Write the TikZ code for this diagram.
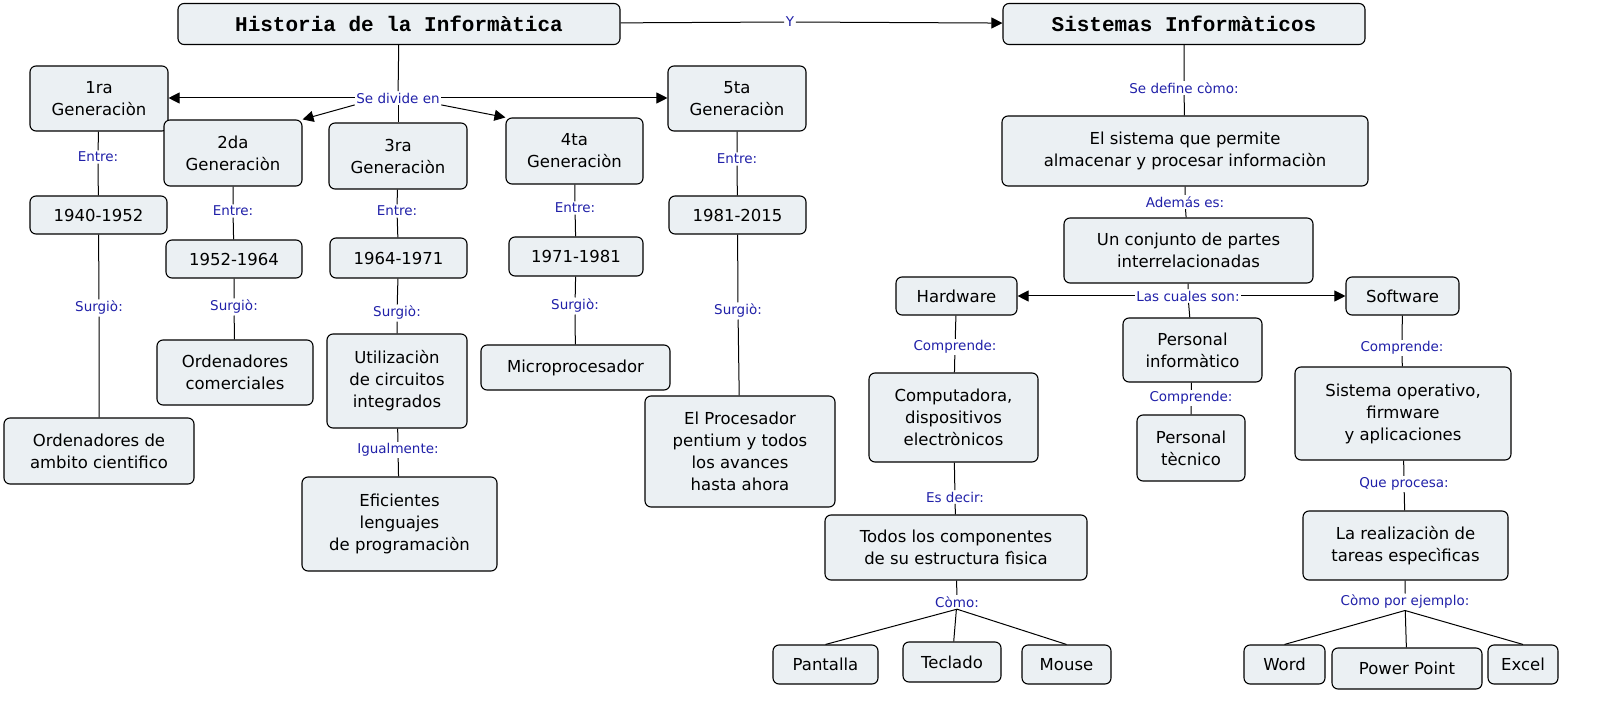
\documentclass[tikz,border=0pt]{standalone}
\usepackage{fontspec}
\setmainfont{DejaVu Sans}
\newfontfamily\monof{Liberation Mono}
\usetikzlibrary{arrows.meta}
\definecolor{boxfill}{HTML}{EBF0F3}
\definecolor{lblc}{HTML}{2020A8}
\newcommand{\bx}[6]{\node[box,minimum width={(#4-#2)*1pt},minimum height={(#5-#3)*1pt}] (#1) at ({(#2+#4)/2},{(#3+#5)/2}) {#6};}
\begin{document}
\begin{tikzpicture}[x=1pt,y=-1pt,
 box/.style={draw,rounded corners=6pt,fill=boxfill,line width=1.1pt,align=center,inner sep=0pt,font=\fontsize{16.5}{22}\selectfont},
 ttl/.style={box,font=\fontsize{21}{24}\selectfont\monof\bfseries},
 lbl/.style={text=lblc,inner sep=1.5pt,font=\fontsize{13.5}{16}\selectfont},
 ln/.style={line width=1pt},
 ar/.style={line width=1pt,-{Triangle[length=11pt,width=11pt]}}]
\useasboundingbox (0,0) rectangle (1600,708);
\node[ttl,minimum width=442pt,minimum height=41pt] (hist) at (399,24) {Historia de la Informàtica};
\node[ttl,minimum width=362pt,minimum height=41pt] (sis) at (1184,24) {Sistemas Informàticos};
\node[lbl] (Y) at (790,22) {Y};
\draw[ln] (hist) -- (Y); \draw[ar] (Y) -- (sis);
% generations
\bx{g1}{30}{66}{168}{131}{1ra\\Generaciòn}
\bx{g2}{164}{120}{302}{186}{2da\\Generaciòn}
\bx{g3}{329}{123}{467}{189}{3ra\\Generaciòn}
\bx{g4}{506}{118}{643}{184}{4ta\\Generaciòn}
\bx{g5}{668}{66}{806}{131}{5ta\\Generaciòn}
\node[lbl] (sd) at (398,98) {Se divide en};
\draw[ln] (hist) -- (sd); \draw[ln] (sd) -- (g3);
\draw[ar] (sd.west) -- (g1.east|-sd.west);
\draw[ar] (sd.east) -- (g5.west|-sd.east);
\draw[ar] (sd.south west) -- (g2.north east);
\draw[ar] (sd.south east) -- (g4.north west);
% col1
\node[lbl] (e1) at (98,157) {Entre:};
\bx{d1}{30}{196}{167}{234}{1940-1952}
\node[lbl] (s1) at (99,308) {Surgiò:};
\bx{o1}{4}{418}{194}{484}{Ordenadores de\\ambito cientifico}
\draw[ln] (g1)--(e1)--(d1)--(s1)--(o1);
% col2
\node[lbl] (e2) at (233,211) {Entre:};
\bx{d2}{166}{240}{302}{278}{1952-1964}
\node[lbl] (s2) at (234,307) {Surgiò:};
\bx{o2}{157}{340}{313}{405}{Ordenadores\\comerciales}
\draw[ln] (g2)--(e2)--(d2)--(s2)--(o2);
% col3
\node[lbl] (e3) at (397,211) {Entre:};
\bx{d3}{330}{238}{467}{278}{1964-1971}
\node[lbl] (s3) at (397,313) {Surgiò:};
\bx{o3}{327}{334}{467}{428}{Utilizaciòn\\de circuitos\\integrados}
\node[lbl] (i3) at (398,450) {Igualmente:};
\bx{p3}{302}{477}{497}{571}{Eficientes\\lenguajes\\de programaciòn}
\draw[ln] (g3)--(e3)--(d3)--(s3)--(o3)--(i3)--(p3);
% col4
\node[lbl] (e4) at (575,208) {Entre:};
\bx{d4}{509}{237}{643}{276}{1971-1981}
\node[lbl] (s4) at (575,306) {Surgiò:};
\bx{o4}{481}{345}{670}{390}{Microprocesador}
\draw[ln] (g4)--(e4)--(d4)--(s4)--(o4);
% col5
\node[lbl] (e5) at (737,159) {Entre:};
\bx{d5}{669}{196}{806}{234}{1981-2015}
\node[lbl] (s5) at (738,311) {Surgiò:};
\bx{o5}{645}{396}{835}{507}{El Procesador\\pentium y todos\\los avances\\hasta ahora}
\draw[ln] (g5)--(e5)--(d5)--(s5)--(o5);
% right side
\node[lbl] (sdc) at (1184,88) {Se define còmo:};
\bx{es}{1002}{116}{1368}{186}{El sistema que permite\\almacenar y procesar informaciòn}
\node[lbl] (ae) at (1185,202) {Además es:};
\bx{uc}{1064}{218}{1313}{283}{Un conjunto de partes\\interrelacionadas}
\node[lbl] (lc) at (1188,296) {Las cuales son:};
\draw[ln] (sis)--(sdc)--(es)--(ae)--(uc)--(lc);
\bx{hw}{896}{277}{1017}{315}{Hardware}
\bx{sw}{1346}{277}{1459}{315}{Software}
\draw[ar] (lc.west) -- (hw.east|-lc.west);
\draw[ar] (lc.east) -- (sw.west|-lc.east);
\bx{pi}{1123}{318}{1262}{382}{Personal\\informàtico}
\node[lbl] (cp) at (1191,398) {Comprende:};
\bx{pt}{1137}{415}{1245}{481}{Personal\\tècnico}
\draw[ln] (lc)--(pi)--(cp)--(pt);
% hardware
\node[lbl] (ch) at (955,347) {Comprende:};
\bx{cd}{869}{373}{1038}{462}{Computadora,\\dispositivos\\electrònicos}
\node[lbl] (ed) at (955,497) {Es decir:};
\bx{tc}{825}{515}{1087}{580}{Todos los componentes\\de su estructura fìsica}
\node[lbl] (co) at (957,602) {Còmo:};
\draw[ln] (hw)--(ch)--(cd)--(ed)--(tc)--(co);
\bx{pa}{773}{645}{878}{684}{Pantalla}
\bx{te}{903}{642}{1001}{682}{Teclado}
\bx{mo}{1022}{645}{1111}{684}{Mouse}
\draw[ln] (co.south)--(pa.north); \draw[ln] (co)--(te); \draw[ln] (co.south)--(mo.north);
% software
\node[lbl] (cs) at (1402,348) {Comprende:};
\bx{so}{1295}{367}{1511}{460}{Sistema operativo,\\firmware\\y aplicaciones}
\node[lbl] (qp) at (1404,484) {Que procesa:};
\bx{rt}{1303}{511}{1508}{580}{La realizaciòn de\\tareas especìficas}
\node[lbl] (cpe) at (1405,602) {Còmo por ejemplo:};
\draw[ln] (sw)--(cs)--(so)--(qp)--(rt)--(cpe);
\bx{wo}{1244}{645}{1325}{684}{Word}
\bx{pp}{1332}{648}{1482}{689}{Power Point}
\bx{ex}{1488}{645}{1558}{684}{Excel}
\draw[ln] (cpe.south)--(wo.north); \draw[ln] (cpe)--(pp); \draw[ln] (cpe.south)--(ex.north);
\end{tikzpicture}
\end{document}
